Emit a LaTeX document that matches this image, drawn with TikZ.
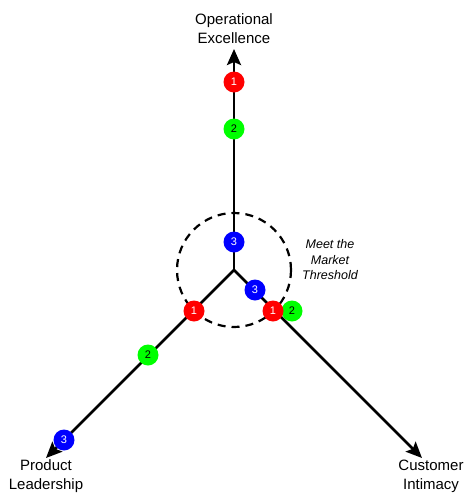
\documentclass[tikz,border=0pt]{standalone}
\usepackage{fontspec}
\setmainfont{Liberation Sans}
\usetikzlibrary{arrows.meta}
\usetikzlibrary{positioning}

\begin{document}
\begin{tikzpicture}[
			x=1pt, y=-1pt,
			axis/.style={line width=2.8pt, draw=black},
			goal/.style={align=center, font=\fontsize{15}{19}\selectfont, inner sep=0pt},
			dot/.style={circle, minimum size=21pt, inner sep=0pt, font=\fontsize{11}{11}\selectfont},
			reddot/.style={dot, fill=red, text=white},
			greendot/.style={dot, fill=green, text=black},
			bluedot/.style={dot, fill=blue, text=white},
			]
			
			\useasboundingbox (0,0) rectangle (474,501);
			
			\coordinate (c) at (234,270);
			\coordinate (t_ox) at (234,49);
			\coordinate (t_pl) at (46,458);
			\coordinate (t_ci) at (422,458);
			
			\node[goal]          (ox) at (234,29)                                      {Operational\\Excellence};
			\node[goal]          (pl) at (46,476)                                      {Product\\Leadership};
			\node[goal]          (ci) at (431,476)                                     {Customer\\Intimacy};
			\node[goal, font=\fontsize{12.5}{15.5}\selectfont\itshape] (mt) at (330,260) {Meet the\\Market\\Threshold};
			
			\draw [line width=2.2pt, dash pattern=on 8pt off 6pt] (c) circle (57);
			
			\draw [axis, arrows=-{Stealth[length=16pt, width=14pt, inset=3pt]}] (c) -- (t_ox);
			\draw [axis, arrows=-{Stealth[length=16pt, width=14pt, inset=3pt]}] (c) -- (t_pl);
			\draw [axis, arrows=-{Stealth[length=16pt, width=14pt, inset=3pt]}] (c) -- (t_ci);
			
			\node[reddot]        (ox_1) at (234,82)                                    {1};
			\node[greendot]      (ox_2) at (234,129)                                   {2};
			\node[bluedot]       (ox_3) at (234,242)                                   {3};
			\node[reddot]        (pl_1) at (194,311)                                   {1};
			\node[greendot]      (pl_2) at (148,355)                                   {2};
			\node[bluedot]       (pl_3) at (64,440)                                    {3};
			\node[greendot]      (ci_2) at (292,311)                                   {2};
			\node[reddot]        (ci_1) at (273,311)                                   {1};
			\node[bluedot]       (ci_3) at (255,290)                                   {3};
			
			\end{tikzpicture}
\end{document}
